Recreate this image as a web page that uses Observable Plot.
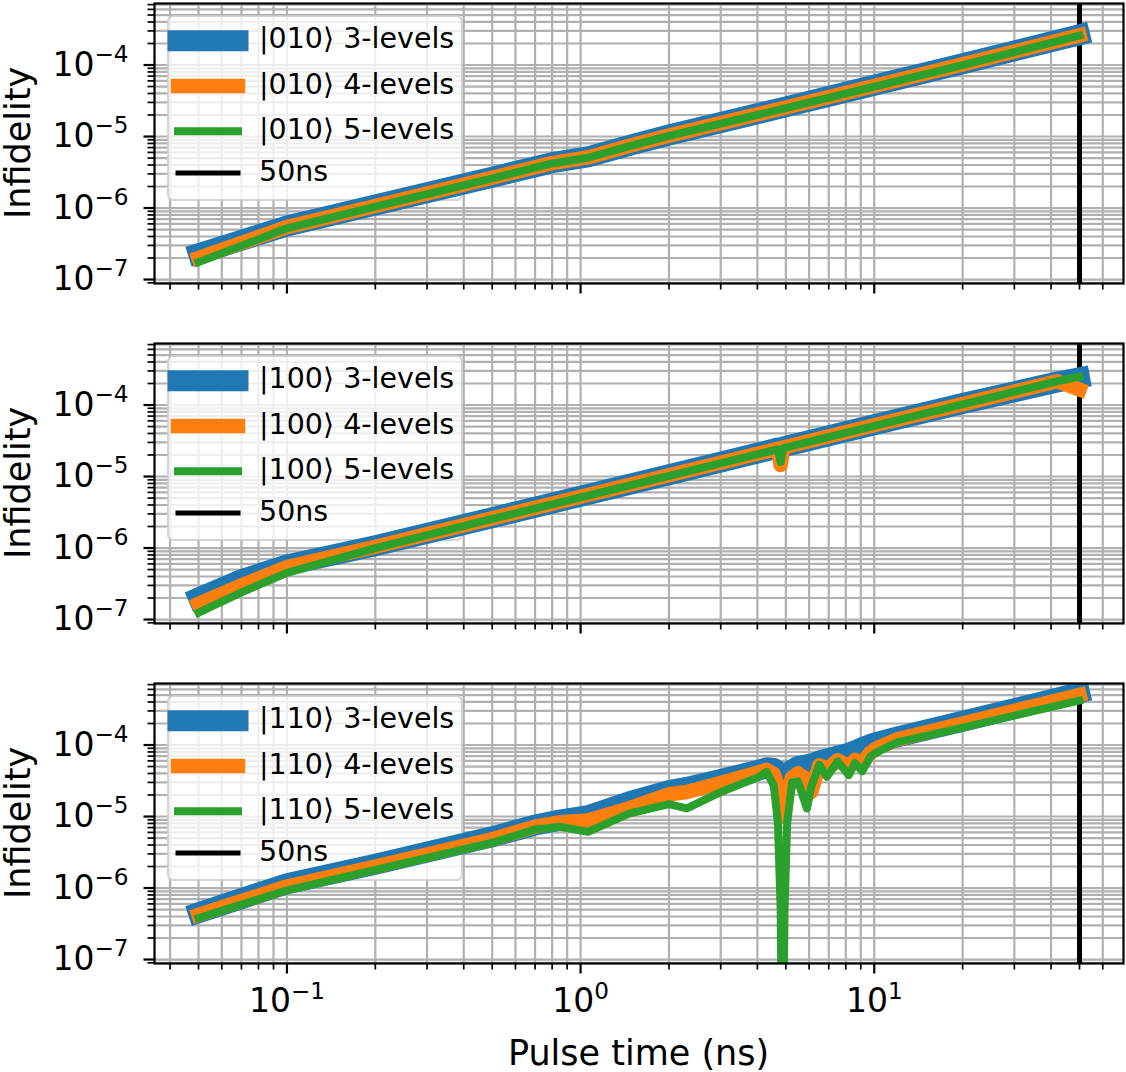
<!DOCTYPE html>
<html>
<head>
<meta charset="utf-8">
<script src="https://cdn.jsdelivr.net/npm/d3@7"></script>
<script src="https://cdn.jsdelivr.net/npm/@observablehq/plot@0.6"></script>
<style>
  body { margin: 0; background: #fff; }
  #chart { width: 1126px; }
  #chart svg { display: block; }
</style>
</head>
<body>
<div id="chart"></div>
<script>
// ---------- data ----------
const states = ["|010⟩", "|100⟩", "|110⟩"];
const seriesNames = ["3-levels", "4-levels", "5-levels"];
const markerLabel = "50ns";
const markerTime = [50];
const xLabel = "Pulse time (ns)";
const yLabel = "Infidelity";

const xMajorTicks = [0.1, 1, 10];
const xMinorTicks = [0.04, 0.05, 0.06, 0.07, 0.08, 0.09, 0.2, 0.3, 0.4, 0.5, 0.6, 0.7, 0.8, 0.9,
                     2, 3, 4, 5, 6, 7, 8, 9, 20, 30, 40, 50, 60];
const yMajorTicks = [1e-7, 1e-6, 1e-5, 1e-4];
const yMinorTicks = [9e-8, 2e-7, 3e-7, 4e-7, 5e-7, 6e-7, 7e-7, 8e-7, 9e-7,
                     2e-6, 3e-6, 4e-6, 5e-6, 6e-6, 7e-6, 8e-6, 9e-6,
                     2e-5, 3e-5, 4e-5, 5e-5, 6e-5, 7e-5, 8e-5, 9e-5,
                     2e-4, 3e-4, 4e-4, 5e-4, 6e-4, 7e-4];

// |010>
const t010 = [0.05, 0.1, 0.2, 0.5, 0.8, 1.06, 1.5, 2, 5, 10, 20, 50];
const inf010_3 = [2.3e-7, 5.6e-7, 1.1e-6, 2.7e-6, 4.3e-6, 5.2e-6, 7.7e-6, 1.05e-5, 2.6e-5, 5.2e-5, 1.04e-4, 2.65e-4];
const inf010_4 = [2.0e-7, 5.4e-7, 1.07e-6, 2.65e-6, 4.25e-6, 5.1e-6, 7.6e-6, 1.03e-5, 2.55e-5, 5.1e-5, 1.02e-4, 2.6e-4];
const inf010_5 = [1.75e-7, 5.2e-7, 1.05e-6, 2.6e-6, 4.2e-6, 5.05e-6, 7.5e-6, 1.02e-5, 2.5e-5, 5.0e-5, 1.0e-4, 2.58e-4];

// |100>
const t100 = [0.05, 0.07, 0.1, 0.2, 0.5, 1, 2, 4.7, 4.8, 4.9, 10, 20, 42, 50];
const inf100_3 = [2.0e-7, 3.6e-7, 5.8e-7, 1.08e-6, 2.65e-6, 5.3e-6, 1.06e-5, 2.5e-5, 2.3e-5, 2.6e-5, 5.3e-5, 1.05e-4, 2.1e-4, 2.4e-4];
const inf100_4 = [1.65e-7, 3.0e-7, 5.4e-7, 1.04e-6, 2.6e-6, 5.2e-6, 1.04e-5, 2.45e-5, 1.45e-5, 2.55e-5, 5.2e-5, 1.03e-4, 2.15e-4, 1.65e-4];
const inf100_5 = [1.25e-7, 2.4e-7, 4.5e-7, 1.0e-6, 2.55e-6, 5.1e-6, 1.02e-5, 2.4e-5, 1.6e-5, 2.5e-5, 5.1e-5, 1.02e-4, 2.15e-4, 2.5e-4];

// |110>
const t110 = [0.05, 0.1, 0.2, 0.5, 0.7, 0.85, 1.06, 1.46, 2.0, 2.3, 3.0, 4.0, 4.3, 4.55, 4.7, 4.8, 4.87, 4.95,
              5.05, 5.25, 5.5, 5.9, 6.1, 6.5, 6.9, 7.5, 8.2, 8.6, 9.1, 9.7, 10.3, 12, 20, 50];
const inf110_3 = [4.5e-7, 1.15e-6, 2.15e-6, 5.2e-6, 7.6e-6, 8.9e-6, 1.03e-5, 1.6e-5, 2.3e-5, 2.55e-5, 3.3e-5, 4.4e-5,
                  4.8e-5, 4.7e-5, 4.3e-5, 3.8e-5, 3.6e-5, 3.7e-5, 4.0e-5, 4.5e-5, 5.0e-5, 5.3e-5, 5.4e-5, 6.0e-5,
                  6.4e-5, 7.0e-5, 7.7e-5, 8.3e-5, 9.2e-5, 1.02e-4, 1.1e-4, 1.3e-4, 2.15e-4, 5.4e-4];
const inf110_4 = [4.2e-7, 1.05e-6, 2.0e-6, 4.8e-6, 7.2e-6, 8.3e-6, 8.8e-6, 1.3e-5, 2.05e-5, 2.2e-5, 2.95e-5, 4.1e-5,
                  4.5e-5, 3.9e-5, 2.6e-5, 1.4e-5, 1.0e-5, 1.3e-5, 2.2e-5, 3.5e-5, 4.0e-5, 3.3e-5, 2.2e-5, 5.2e-5,
                  4.6e-5, 6.1e-5, 5.0e-5, 6.2e-5, 5.6e-5, 7.8e-5, 9.2e-5, 1.2e-4, 2.0e-4, 5.0e-4];
const inf110_5 = [3.8e-7, 9.3e-7, 1.8e-6, 4.3e-6, 6.6e-6, 7.2e-6, 6.1e-6, 1.1e-5, 1.49e-5, 1.3e-5, 2.2e-5, 3.5e-5,
                  4.2e-5, 2.7e-5, 8e-6, 5e-7, 1e-9, 5e-7, 8e-6, 3.0e-5, 3.1e-5, 1.3e-5, 2.6e-5, 5.3e-5,
                  3.6e-5, 5.9e-5, 3.8e-5, 5.6e-5, 4.3e-5, 6.9e-5, 8.1e-5, 1.1e-4, 1.75e-4, 4.2e-4];

const panels = [
  { state: states[0], t: t010, series: [inf010_3, inf010_4, inf010_5] },
  { state: states[1], t: t100, series: [inf100_3, inf100_4, inf100_5] },
  { state: states[2], t: t110, series: [inf110_3, inf110_4, inf110_5] }
];

// ---------- styling ----------
const seriesColors = ["#1f77b4", "#ff7f0e", "#2ca02c"];
const seriesWidths = [21, 14.5, 8];
const markerWidth = 5;
const xDomain = [0.0354, 70.6];
const yDomain = [8.8e-8, 7.25e-4];
const FONT = "'DejaVu Sans', sans-serif";
const tickFont = 33;
const titleFont = 35;
const legendFont = 28.5;

const fmt = d => "10^" + Math.round(Math.log10(d));
const blank = () => "";

const root = document.getElementById("chart");

panels.forEach((p, i) => {
  const isLast = i === panels.length - 1;
  const top = 3, plotH = 280;
  const height = isLast ? 392 : 340;
  const rows = p.series.map(vals => p.t.map((t, k) => ({ t, v: vals[k] })));

  const gridStyle = { stroke: "#b0b0b0", strokeOpacity: 1, strokeWidth: 2.2 };

  const svg = Plot.plot({
    width: 1126,
    height,
    marginLeft: 154,
    marginRight: 3,
    marginTop: top,
    marginBottom: height - top - plotH,
    style: { fontFamily: FONT, background: "white", color: "black", overflow: "visible" },
    x: { type: "log", domain: xDomain, label: null },
    y: { type: "log", domain: yDomain, label: null },
    marks: [
      Plot.gridX({ ticks: xMinorTicks, ...gridStyle }),
      Plot.gridY({ ticks: yMinorTicks, ...gridStyle }),
      Plot.gridX({ ticks: xMajorTicks, ...gridStyle }),
      Plot.gridY({ ticks: yMajorTicks, ...gridStyle }),
      Plot.ruleX(markerTime, { stroke: "black", strokeWidth: markerWidth }),
      ...rows.map((r, j) => Plot.line(r, {
        x: "t", y: "v",
        stroke: seriesColors[j],
        strokeWidth: seriesWidths[j],
        strokeLinecap: "square",
        strokeLinejoin: "round",
        clip: true
      })),
      Plot.frame({ stroke: "black", strokeWidth: 2.2 }),
      Plot.axisX({ ticks: xMinorTicks, tickSize: 6.5, tickFormat: blank, strokeWidth: 1.7, label: null }),
      Plot.axisX({ ticks: xMajorTicks, tickSize: 10.5, tickPadding: 15, tickFormat: isLast ? fmt : blank,
                   fontSize: tickFont, strokeWidth: 2.2, label: null }),
      Plot.axisY({ ticks: yMinorTicks, tickSize: 6.5, tickFormat: blank, strokeWidth: 1.7, label: null }),
      Plot.axisY({ ticks: yMajorTicks, tickSize: 10.5, tickPadding: 15.5, tickFormat: fmt,
                   fontSize: tickFont, strokeWidth: 2.2, label: null })
    ]
  });

  const s = d3.select(svg);

  // superscript exponents on tick labels
  s.selectAll("text").each(function () {
    const txt = this.textContent;
    if (!txt || txt.indexOf("^") < 0) return;
    const [base, exp] = txt.split("^");
    const el = d3.select(this);
    el.text(null);
    el.append("tspan").text(base);
    el.append("tspan").attr("font-size", "0.7em").attr("dy", "-0.6em").text(exp.replace("-", "\u2212"));
  });

  // y-axis title
  s.append("text")
    .attr("transform", `translate(30,${top + plotH / 2}) rotate(-90)`)
    .attr("text-anchor", "middle")
    .attr("font-family", FONT)
    .attr("font-size", titleFont)
    .attr("fill", "black")
    .text(yLabel);

  // x-axis title on the last panel
  if (isLast) {
    s.append("text")
      .attr("x", 154 + (1126 - 154 - 3) / 2)
      .attr("y", 385)
      .attr("text-anchor", "middle")
      .attr("font-family", FONT)
      .attr("font-size", titleFont)
      .attr("fill", "black")
      .text(xLabel);
  }

  // legend (placed beneath the curves, as in the reference)
  const lg = s.append("g")
    .attr("font-family", FONT)
    .attr("font-size", legendFont)
    .attr("text-anchor", "start");
  lg.append("rect")
    .attr("x", 168).attr("y", top + 13)
    .attr("width", 294).attr("height", 184)
    .attr("rx", 5.5)
    .attr("fill", "white").attr("fill-opacity", 0.8)
    .attr("stroke", "#cccccc").attr("stroke-opacity", 0.8).attr("stroke-width", 2.2);
  const entries = seriesNames.map((n, j) => ({ label: `${p.state} ${n}`, color: seriesColors[j], w: seriesWidths[j] }))
    .concat([{ label: markerLabel, color: "black", w: markerWidth }]);
  const rowY = [37.7, 83, 128.3, 170];
  entries.forEach((e, k) => {
    const y = top + rowY[k];
    lg.append("line")
      .attr("x1", 178).attr("x2", 238).attr("y1", y).attr("y2", y)
      .attr("stroke", e.color).attr("stroke-width", e.w).attr("stroke-linecap", "square");
    lg.append("text")
      .attr("x", 259).attr("y", y + 7.6)
      .attr("text-anchor", "start")
      .attr("fill", "black")
      .text(e.label);
  });
  const firstLine = svg.querySelector('g[aria-label="line"]');
  if (firstLine) svg.insertBefore(lg.node(), firstLine);

  root.appendChild(svg);
});
</script>
</body>
</html>
